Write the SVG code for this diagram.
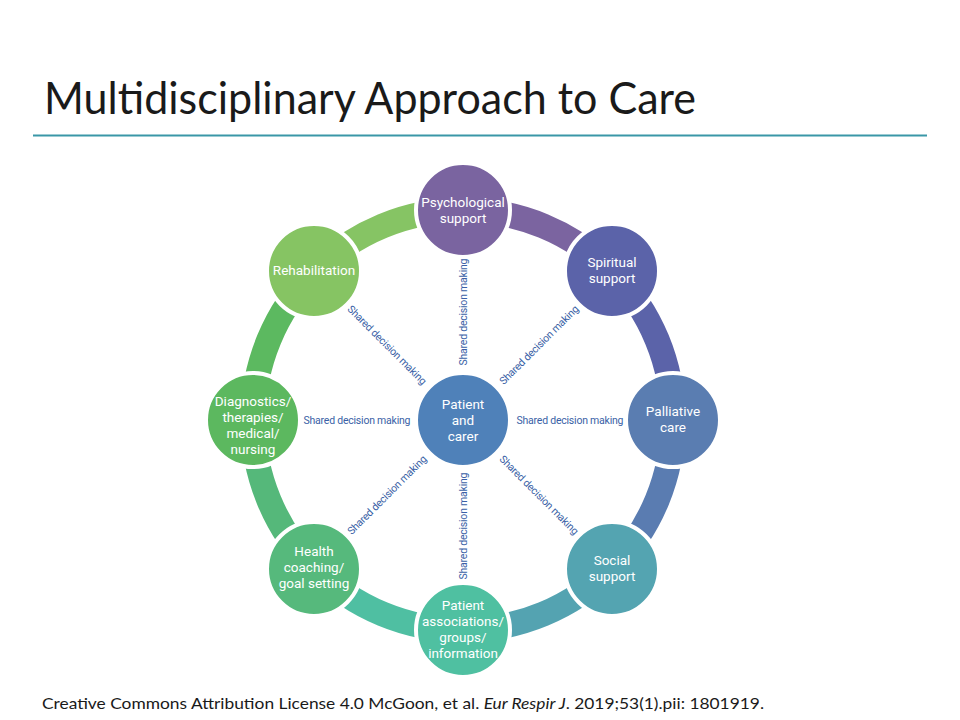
<svg xmlns="http://www.w3.org/2000/svg" width="960" height="720" viewBox="0 0 960 720">
<style>
.title{font-family:Lato,"Liberation Sans",sans-serif;font-size:44px;fill:#1a1a1a}
.foot{font-family:Lato,"Liberation Sans",sans-serif;font-size:16px;fill:#1a1a1a}
.node circle{stroke:#ffffff;stroke-width:4}
.node text{font-family:Roboto,"Liberation Sans",sans-serif;font-size:13.5px;fill:#ffffff;text-anchor:middle}
.sdm{font-family:Roboto,"Liberation Sans",sans-serif;font-size:10.5px;fill:#3a5fa6;text-anchor:middle;dominant-baseline:central}
.band path{fill:none;stroke-width:25}
</style>
<rect width="960" height="720" fill="#ffffff"/>
<text class="title" x="44" y="114" textLength="652" lengthAdjust="spacingAndGlyphs">Multidisciplinary Approach to Care</text>
<line x1="33" y1="135.5" x2="927" y2="135.5" stroke="#3a97a7" stroke-width="2"/>

<g id="connectors">
<g class="band">
<path d="M463 210 A210 210 0 0 1 611.5 271.5" stroke="#7b64a0"/>
<path d="M611.5 271.5 A210 210 0 0 1 673 420" stroke="#5b63a9"/>
<path d="M673 420 A210 210 0 0 1 611.5 568.5" stroke="#5a7cb1"/>
<path d="M611.5 568.5 A210 210 0 0 1 463 630" stroke="#54a3b1"/>
<path d="M463 630 A210 210 0 0 1 314.5 568.5" stroke="#4fbfa2"/>
<path d="M314.5 568.5 A210 210 0 0 1 253 420" stroke="#55b87a"/>
<path d="M253 420 A210 210 0 0 1 314.5 271.5" stroke="#5cb960"/>
<path d="M314.5 271.5 A210 210 0 0 1 463 210" stroke="#86c464"/>
</g>
<text class="sdm" transform="translate(357 420)" textLength="107">Shared decision making</text>
<text class="sdm" transform="translate(570 420)" textLength="107">Shared decision making</text>
<text class="sdm" transform="translate(463 312) rotate(-90)" textLength="107">Shared decision making</text>
<text class="sdm" transform="translate(463 526) rotate(-90)" textLength="107">Shared decision making</text>
<text class="sdm" transform="translate(539 345) rotate(-45)" textLength="107">Shared decision making</text>
<text class="sdm" transform="translate(539 495) rotate(45)" textLength="107">Shared decision making</text>
<text class="sdm" transform="translate(387 345) rotate(45)" textLength="107">Shared decision making</text>
<text class="sdm" transform="translate(387 495) rotate(-45)" textLength="107">Shared decision making</text>
</g>

<g id="patient-carer" class="node"><circle cx="463" cy="420" r="47" fill="#4f81b9"/>
<text x="463" y="409">Patient</text><text x="463" y="425">and</text><text x="463" y="441">carer</text></g>

<g id="psychological" class="node"><circle cx="463" cy="210" r="47" fill="#7a64a0"/>
<text x="463" y="207">Psychological</text><text x="463" y="223">support</text></g>

<g id="spiritual" class="node"><circle cx="612" cy="271" r="47" fill="#5b63a9"/>
<text x="612" y="267">Spiritual</text><text x="612" y="283">support</text></g>

<g id="palliative" class="node"><circle cx="673" cy="420" r="47" fill="#5a7db1"/>
<text x="673" y="416">Palliative</text><text x="673" y="432">care</text></g>

<g id="social" class="node"><circle cx="612" cy="569" r="47" fill="#54a4b1"/>
<text x="612" y="565">Social</text><text x="612" y="581">support</text></g>

<g id="patient-associations" class="node"><circle cx="463" cy="630" r="47" fill="#4fc0a1"/>
<text x="463" y="610">Patient</text><text x="463" y="626">associations/</text><text x="463" y="642">groups/</text><text x="463" y="658">information</text></g>

<g id="health-coaching" class="node"><circle cx="314" cy="569" r="47" fill="#56b97c"/>
<text x="314" y="556">Health</text><text x="314" y="572">coaching/</text><text x="314" y="588">goal setting</text></g>

<g id="diagnostics" class="node"><circle cx="253" cy="420" r="47" fill="#5cb85f"/>
<text x="253" y="406">Diagnostics/</text><text x="253" y="422">therapies/</text><text x="253" y="438">medical/</text><text x="253" y="454">nursing</text></g>

<g id="rehabilitation" class="node"><circle cx="314" cy="271" r="47" fill="#86c463"/>
<text x="314" y="275">Rehabilitation</text></g>

<text class="foot" x="42" y="709" textLength="722" lengthAdjust="spacingAndGlyphs">Creative Commons Attribution License 4.0 McGoon, et al. <tspan font-style="italic">Eur Respir J</tspan>. 2019;53(1).pii: 1801919.</text>
</svg>
